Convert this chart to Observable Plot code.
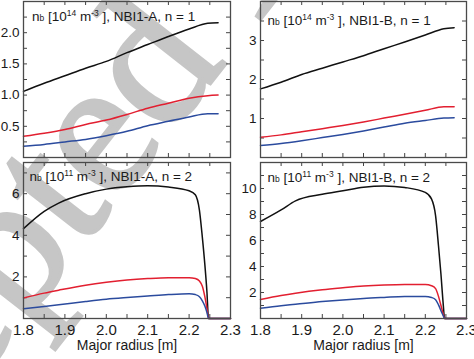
<!DOCTYPE html>
<html><head><meta charset="utf-8">
<script src="https://cdn.jsdelivr.net/npm/d3@7"></script>
<script src="https://cdn.jsdelivr.net/npm/@observablehq/plot@0.6"></script>
<style>
html,body{margin:0;padding:0;background:#fff;}
#wrap{position:relative;width:474px;height:359px;overflow:hidden;background:#fff;font-family:"Liberation Sans",Arial,sans-serif;}
#wrap > svg{position:absolute;}
</style></head><body><div id="wrap"></div>
<script>
// ---- data ----
const xLabel = "Major radius [m]";
const xTickLabels = [1.8, 1.9, 2.0, 2.1, 2.2, 2.3];
const seriesColors = ["#111111", "#e21f30", "#2b4b9e"];

// n = 1 panels
const R_n1 = [1.80, 1.85, 1.90, 1.95, 2.00, 2.05, 2.10, 2.15, 2.20, 2.245, 2.27];
const A1_black = [1.06, 1.19, 1.31, 1.43, 1.54, 1.68, 1.81, 1.94, 2.06, 2.15, 2.16];
const A1_red   = [0.34, 0.39, 0.45, 0.53, 0.60, 0.69, 0.79, 0.87, 0.95, 0.99, 1.00];
const A1_blue  = [0.18, 0.21, 0.25, 0.29, 0.35, 0.42, 0.51, 0.58, 0.65, 0.70, 0.70];
const B1_black = [1.76, 1.93, 2.13, 2.29, 2.45, 2.61, 2.79, 2.96, 3.14, 3.30, 3.33];
const B1_red   = [0.52, 0.58, 0.66, 0.74, 0.82, 0.91, 1.01, 1.11, 1.21, 1.30, 1.30];
const B1_blue  = [0.31, 0.36, 0.43, 0.51, 0.59, 0.68, 0.78, 0.88, 0.95, 1.01, 1.02];

// n = 2 panels
const R_n2 = [1.80, 1.85, 1.885, 1.95, 2.00, 2.05, 2.10, 2.15, 2.20, 2.215, 2.225, 2.232, 2.238, 2.243, 2.247, 2.30];
const A2_black = [4.32, 5.15, 5.55, 6.00, 6.22, 6.33, 6.38, 6.32, 6.14, 5.95, 5.20, 3.90, 2.60, 1.30, 0, 0];
const A2_red   = [0.99, 1.22, 1.36, 1.60, 1.74, 1.85, 1.92, 1.96, 1.96, 1.92, 1.80, 1.55, 1.05, 0.50, 0, 0];
const A2_blue  = [0.47, 0.58, 0.66, 0.82, 0.93, 1.01, 1.08, 1.15, 1.19, 1.15, 1.05, 0.85, 0.60, 0.30, 0, 0];
const B2_black = [7.46, 8.35, 9.05, 9.55, 9.82, 10.10, 10.20, 10.08, 9.70, 9.20, 7.90, 5.60, 3.40, 1.30, 0, 0];
const B2_red   = [1.46, 1.77, 1.95, 2.22, 2.37, 2.50, 2.58, 2.62, 2.61, 2.52, 2.30, 1.70, 1.00, 0.40, 0, 0];
const B2_blue  = [0.79, 0.98, 1.09, 1.30, 1.43, 1.54, 1.62, 1.69, 1.70, 1.62, 1.45, 1.05, 0.60, 0.25, 0, 0];

const panels = [
  {beam: "NBI1-A", n: 1, pow: "14", R: R_n1, ys: [A1_black, A1_red, A1_blue], ydomain: [0, 2.5], yticks: [0.5, 1.0, 1.5, 2.0], ystep: 0.25, yfmt: ".1f", xlabels: false},
  {beam: "NBI1-B", n: 1, pow: "14", R: R_n1, ys: [B1_black, B1_red, B1_blue], ydomain: [0, 4], yticks: [1, 2, 3], ystep: 0.5, yfmt: "d", xlabels: false},
  {beam: "NBI1-A", n: 2, pow: "11", R: R_n2, ys: [A2_black, A2_red, A2_blue], ydomain: [0, 7.5], yticks: [2, 4, 6], ystep: 1, yfmt: "d", xlabels: true},
  {beam: "NBI1-B", n: 2, pow: "11", R: R_n2, ys: [B2_black, B2_red, B2_blue], ydomain: [0, 12], yticks: [2, 4, 6, 8, 10], ystep: 1, yfmt: "d", xlabels: true}
];
// layout (pixels)
const layout = [
  {left: 0,   top: 0,   width: 240, height: 160, mt: 1,  mb: 3,  ml: 23, mr: 10, lx: 9,   ly: 20},
  {left: 237, top: 0,   width: 237, height: 160, mt: 1,  mb: 3,  ml: 23, mr: 8,  lx: 7.5, ly: 23.5},
  {left: 0,   top: 150, width: 240, height: 209, mt: 12, mb: 41, ml: 23, mr: 10, lx: 6.5, ly: 19},
  {left: 237, top: 150, width: 237, height: 209, mt: 12, mb: 41, ml: 23, mr: 8,  lx: 7.5, ly: 19.5}
];

const wrap = d3.select("#wrap");
// watermark
const wm = wrap.append("svg").attr("width", 474).attr("height", 359).style("left", "0px").style("top", "0px");
wm.append("text")
  .attr("transform", "translate(-226,642) rotate(-52)")
  .attr("font-family", "Liberation Serif, serif")
  .attr("font-size", 195)
  .attr("fill", "#c6c6c6")
  .attr("stroke", "#c6c6c6")
  .attr("stroke-width", 3.5)
  .text("Accepted Manuscript");

function range(a, b, s) { const out = []; for (let v = a; v <= b + 1e-9; v += s) out.push(+v.toFixed(4)); return out; }

panels.forEach((p, i) => {
  const L = layout[i];
  const fw = L.width - L.ml - L.mr, fh = L.height - L.mt - L.mb;
  const xminor = range(1.8, 2.3, 0.05);
  const yminor = range(p.ydomain[0], p.ydomain[1], p.ystep);
  const lines = p.ys.map((vals, k) => Plot.line(p.R.map((r, j) => ({r, v: vals[j]})), {
    x: "r", y: "v", stroke: seriesColors[k], strokeWidth: 1.5, curve: "monotone-x"
  }));
  const tickStyle = {stroke: "#444", strokeWidth: 1};
  const marks = [
    Plot.tickY(yminor, {y: d => d, insetRight: fw - 4, ...tickStyle}),
    Plot.tickY(yminor, {y: d => d, insetLeft: fw - 4, ...tickStyle}),
    Plot.tickX(xminor, {x: d => d, insetTop: fh - 4, ...tickStyle}),
    Plot.tickX(xminor, {x: d => d, insetBottom: fh - 4, ...tickStyle}),
    Plot.axisY(p.yticks, {tickSize: 0, tickPadding: 4, fontSize: 13.5, tickFormat: d3.format(p.yfmt), label: null, fill: "#1a1a1a"}),
    Plot.axisX(p.xlabels ? xTickLabels : [], {tickSize: 0, tickPadding: 6, fontSize: 15, tickFormat: d3.format(".1f"), label: null, fill: "#1a1a1a"}),
    ...lines,
    Plot.frame({stroke: "#4a4a4a", strokeWidth: 1.3})
  ];
  if (p.xlabels) marks.push(Plot.text([xLabel], {frameAnchor: "bottom", dy: 31, fontSize: 14, fill: "#1a1a1a"}));
  const svg = Plot.plot({
    width: L.width, height: L.height,
    marginTop: L.mt, marginBottom: L.mb, marginLeft: L.ml, marginRight: L.mr,
    x: {domain: [1.8, 2.3]},
    y: {domain: p.ydomain},
    style: {background: "transparent", overflow: "visible", fontFamily: "Liberation Sans, Arial, sans-serif"},
    marks
  });
  const s = d3.select(svg).style("left", L.left + "px").style("top", L.top + "px");
  const t = s.append("text").attr("x", L.ml + L.lx).attr("y", L.mt + L.ly)
    .attr("font-size", 13.5).attr("fill", "#1a1a1a").attr("text-anchor", "start");
  t.append("tspan").text("n");
  t.append("tspan").attr("font-size", 8.5).text("b");
  t.append("tspan").text(" [10");
  t.append("tspan").attr("font-size", 8.5).attr("dy", -5).text(p.pow);
  t.append("tspan").attr("dy", 5).text(" m");
  t.append("tspan").attr("font-size", 8.5).attr("dy", -5).text("-3");
  t.append("tspan").attr("dy", 5).text(` ], ${p.beam}, n = ${p.n}`);
  document.getElementById("wrap").appendChild(svg);
});
</script>
</body></html>
